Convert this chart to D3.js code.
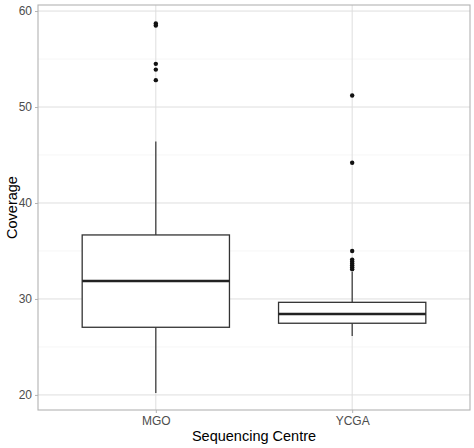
<!DOCTYPE html>
<html>
<head>
<meta charset="utf-8">
<script src="https://cdn.jsdelivr.net/npm/d3@7"></script>
<style>
  body { margin: 0; background: #fff; }
  svg { display: block; font-family: "Liberation Sans", Arial, sans-serif; }
</style>
</head>
<body>
<svg id="chart" width="474" height="448"></svg>
<script>
// box stats
const centres = ["MGO", "YCGA"];
const lowerWhisker = [20.2, 26.15];
const q1 = [27.05, 27.47];
const median = [31.88, 28.44];
const q3 = [36.67, 29.65];
const upperWhisker = [46.4, 32.8];
const outliersMGO = [58.7, 58.5, 54.5, 53.9, 52.8];
const outliersYCGA = [51.2, 44.2, 35.0, 34.1, 33.9, 33.7, 33.5, 33.3, 33.1];
const yTicks = [20, 30, 40, 50, 60];
const yMinor = [25, 35, 45, 55];
const yDomain = [18.43, 60.63];

const svg = d3.select("#chart");
const margin = { top: 5, right: 4, bottom: 38, left: 38 };
const width = 474 - margin.left - margin.right;
const height = 448 - margin.top - margin.bottom;

const g = svg.append("g").attr("transform", `translate(${margin.left},${margin.top})`);

const y = d3.scaleLinear().domain(yDomain).range([height, 0]);
// discrete positions 1 and 2, padded by 0.6 on each side
const x = d3.scaleLinear().domain([0.4, 2.6]).range([0, width]);
const boxW = x(1.375) - x(1);

// grid
g.selectAll(".minor").data(yMinor).enter().append("line")
    .attr("x1", 0).attr("x2", width)
    .attr("y1", d => y(d)).attr("y2", d => y(d))
    .attr("stroke", "#f0f0f0").attr("stroke-width", 0.6);
g.selectAll(".major").data(yTicks).enter().append("line")
    .attr("x1", 0).attr("x2", width)
    .attr("y1", d => y(d)).attr("y2", d => y(d))
    .attr("stroke", "#dedede").attr("stroke-width", 1);
g.selectAll(".vgrid").data(centres).enter().append("line")
    .attr("x1", (d, i) => x(i + 1)).attr("x2", (d, i) => x(i + 1))
    .attr("y1", 0).attr("y2", height)
    .attr("stroke", "#dedede").attr("stroke-width", 1);

// boxes
const stats = centres.map((c, i) => ({
    name: c, pos: i + 1,
    lw: lowerWhisker[i], q1: q1[i], med: median[i], q3: q3[i], uw: upperWhisker[i],
    out: i === 0 ? outliersMGO : outliersYCGA
}));

const box = g.selectAll(".box").data(stats).enter().append("g");

box.append("line")
    .attr("x1", d => x(d.pos)).attr("x2", d => x(d.pos))
    .attr("y1", d => y(d.q3)).attr("y2", d => y(d.uw))
    .attr("stroke", "#333").attr("stroke-width", 1.2);
box.append("line")
    .attr("x1", d => x(d.pos)).attr("x2", d => x(d.pos))
    .attr("y1", d => y(d.q1)).attr("y2", d => y(d.lw))
    .attr("stroke", "#333").attr("stroke-width", 1.2);
box.append("rect")
    .attr("x", d => x(d.pos) - boxW).attr("width", boxW * 2)
    .attr("y", d => y(d.q3)).attr("height", d => y(d.q1) - y(d.q3))
    .attr("fill", "#fff").attr("stroke", "#333").attr("stroke-width", 1.3);
box.append("line")
    .attr("x1", d => x(d.pos) - boxW).attr("x2", d => x(d.pos) + boxW)
    .attr("y1", d => y(d.med)).attr("y2", d => y(d.med))
    .attr("stroke", "#222").attr("stroke-width", 2.5);
box.selectAll("circle").data(d => d.out.map(v => ({ pos: d.pos, v }))).enter()
    .append("circle")
    .attr("cx", d => x(d.pos)).attr("cy", d => y(d.v))
    .attr("r", 2.2).attr("fill", "#111");

// panel border
g.append("rect").attr("width", width).attr("height", height)
    .attr("fill", "none").attr("stroke", "#b3b3b3").attr("stroke-width", 1.1);

// y axis
const yAxis = g.append("g").call(d3.axisLeft(y).tickValues(yTicks).tickSize(3).tickPadding(3));
yAxis.select(".domain").remove();
yAxis.selectAll("line").attr("stroke", "#b3b3b3");
yAxis.selectAll("text").attr("fill", "#4d4d4d").style("font-size", "12px");

// x axis
const xAxis = g.append("g").attr("transform", `translate(0,${height})`)
    .call(d3.axisBottom(x).tickValues([1, 2]).tickFormat(d => centres[d - 1]).tickSize(3).tickPadding(3));
xAxis.select(".domain").remove();
xAxis.selectAll("line").attr("stroke", "#b3b3b3");
xAxis.selectAll("text").attr("fill", "#4d4d4d").style("font-size", "12px");

// titles
svg.append("text")
    .attr("x", margin.left + width / 2).attr("y", 441)
    .attr("text-anchor", "middle").style("font-size", "14.5px").attr("fill", "#000")
    .text("Sequencing Centre");
svg.append("text")
    .attr("transform", `translate(17,${margin.top + height / 2}) rotate(-90)`)
    .attr("text-anchor", "middle").style("font-size", "14.5px").attr("fill", "#000")
    .text("Coverage");
</script>
</body>
</html>
